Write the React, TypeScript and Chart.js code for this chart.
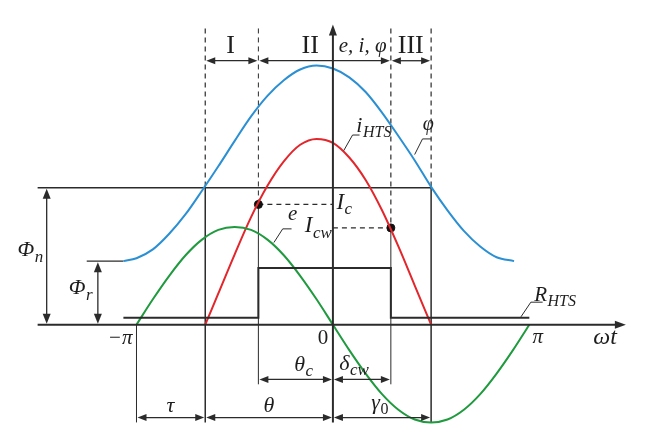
import React, { useEffect, useRef } from "react";
import { Chart, registerables } from "chart.js";

Chart.register(...registerables);

// ---- data (x in degrees, π = 180; y in relative units) ----
const E_X = [-180, -165, -150, -135, -120, -105, -90, -75, -60, -45, -30, -15, 0, 15, 30, 45, 60, 75, 90, 105, 120, 135, 150, 165, 180];
const E_VALUES = [0, 0.26, 0.5, 0.71, 0.87, 0.97, 1.0, 0.97, 0.87, 0.71, 0.5, 0.26, 0, -0.26, -0.5, -0.71, -0.87, -0.97, -1.0, -0.97, -0.87, -0.71, -0.5, -0.26, 0];

const PHI_X = [-192, -180, -165, -150, -135, -120, -105, -90, -75, -60, -45, -30, -15, 0, 15, 30, 45, 60, 75, 90, 105, 120, 135, 150, 166];
const PHI_VALUES = [0.65, 0.68, 0.77, 0.93, 1.13, 1.37, 1.62, 1.88, 2.13, 2.34, 2.5, 2.61, 2.65, 2.62, 2.53, 2.38, 2.17, 1.93, 1.68, 1.41, 1.17, 0.96, 0.8, 0.69, 0.65];

const I_X = [-117, -105, -90, -75, -60, -45, -30, -15, 0, 15, 30, 45, 60, 75, 90];
const I_VALUES = [0, 0.32, 0.72, 1.1, 1.42, 1.67, 1.84, 1.9, 1.86, 1.71, 1.48, 1.17, 0.8, 0.4, 0];

const R_X = [-192, -68.3, -68.3, 53.1, 53.1, 180];
const R_VALUES = [0.07, 0.07, 0.58, 0.58, 0.07, 0.07];

const DOT_X = [-68.3, 53.1];
const DOT_VALUES = [1.23, 0.99];

// key abscissae: -π, start of I, start of II, start of III, end of III, π
const MARK_X = [-180, -117, -68.3, 53.1, 90, 180];
// key levels: Φn, Φr, Ic, Icw
const LEVELS = [1.4, 0.65, 1.23, 0.99];

const BLUE = "#2a8fd3";
const RED = "#e3262b";
const GREEN = "#1f9a3e";
const INK = "#2b2b2b";

const SERIF = "'Liberation Serif', 'DejaVu Serif', serif";

const drawPlugin = {
  id: "diagram",
  beforeDatasetsDraw(chart: any) {
    const ctx = chart.ctx;
    const X = (v: number) => chart.scales.x.getPixelForValue(v);
    const Y = (v: number) => chart.scales.y.getPixelForValue(v);
    const [mPi, mA, mB, mC, mD] = MARK_X;
    const [phiN, phiR, ic, icw] = LEVELS;

    const seg = (x1: number, y1: number, x2: number, y2: number, w = 1, dash: number[] = []) => {
      ctx.save();
      ctx.strokeStyle = INK;
      ctx.lineWidth = w;
      ctx.setLineDash(dash);
      ctx.beginPath();
      ctx.moveTo(X(x1), Y(y1));
      ctx.lineTo(X(x2), Y(y2));
      ctx.stroke();
      ctx.restore();
    };

    const TOP = 3.03;
    const BOT = -1.0;
    const MID = -0.61;
    const dash = [5, 4];

    // dashed top verticals
    seg(mA, TOP, mA, phiN, 1.2, dash);
    seg(mB, TOP, mB, ic, 1, dash);
    seg(mC, TOP, mC, icw, 1.2, dash);
    seg(mD, TOP, mD, phiN, 1.2, dash);
    // solid verticals
    seg(mA, phiN, mA, BOT, 1.5);
    seg(mD, phiN, mD, BOT, 1.5);
    seg(mB, ic, mB, MID, 1);
    seg(mC, icw, mC, MID, 1);
    seg(mPi, 0, mPi, BOT, 1);
    // dashed horizontals
    seg(mB, ic, 0, ic, 1.2, dash);
    seg(0, icw, mC, icw, 1.2, dash);
    // Φn / Φr levels
    seg(-270.6, phiN, mD, phiN, 1.6);
    seg(-225.6, phiR, -192, phiR, 1.2);
  },
  afterDatasetsDraw(chart: any) {
    const ctx = chart.ctx;
    const X = (v: number) => chart.scales.x.getPixelForValue(v);
    const Y = (v: number) => chart.scales.y.getPixelForValue(v);
    const [mPi, mA, mB, mC, mD] = MARK_X;
    const [phiN, phiR] = LEVELS;

    const seg = (x1: number, y1: number, x2: number, y2: number, w = 1) => {
      ctx.save();
      ctx.strokeStyle = INK;
      ctx.lineWidth = w;
      ctx.beginPath();
      ctx.moveTo(X(x1), Y(y1));
      ctx.lineTo(X(x2), Y(y2));
      ctx.stroke();
      ctx.restore();
    };
    // tip at (px,py), pointing in direction (dx,dy)
    const head = (px: number, py: number, dx: number, dy: number, len = 9, half = 3.5) => {
      ctx.save();
      ctx.fillStyle = INK;
      ctx.beginPath();
      ctx.moveTo(px, py);
      ctx.lineTo(px - dx * len - dy * half, py - dy * len + dx * half);
      ctx.lineTo(px - dx * len + dy * half, py - dy * len - dx * half);
      ctx.closePath();
      ctx.fill();
      ctx.restore();
    };
    const hArrow = (x1: number, x2: number, y: number) => {
      const a = X(x1) + 1, b = X(x2) - 1, yy = Y(y);
      ctx.save();
      ctx.strokeStyle = INK;
      ctx.lineWidth = 1.3;
      ctx.beginPath();
      ctx.moveTo(a + 4, yy);
      ctx.lineTo(b - 4, yy);
      ctx.stroke();
      ctx.restore();
      head(a, yy, -1, 0);
      head(b, yy, 1, 0);
    };
    const vArrow = (x: number, yTop: number, yBot: number) => {
      const xx = X(x), a = Y(yTop) + 1, b = Y(yBot) - 1;
      ctx.save();
      ctx.strokeStyle = INK;
      ctx.lineWidth = 1.3;
      ctx.beginPath();
      ctx.moveTo(xx, a + 4);
      ctx.lineTo(xx, b - 4);
      ctx.stroke();
      ctx.restore();
      head(xx, a, 0, -1, 10, 4);
      head(xx, b, 0, 1, 10, 4);
    };
    const poly = (pts: number[][]) => {
      ctx.save();
      ctx.strokeStyle = INK;
      ctx.lineWidth = 1;
      ctx.beginPath();
      pts.forEach((p, i) => (i ? ctx.lineTo(X(p[0]), Y(p[1])) : ctx.moveTo(X(p[0]), Y(p[1]))));
      ctx.stroke();
      ctx.restore();
    };
    const text = (t: string, x: number, y: number, size: number, italic: boolean, align: CanvasTextAlign = "center") => {
      ctx.save();
      ctx.fillStyle = "#1e1e1e";
      ctx.font = `${italic ? "italic " : ""}${size}px ${SERIF}`;
      ctx.textAlign = align;
      ctx.textBaseline = "middle";
      ctx.fillText(t, X(x), Y(y));
      ctx.restore();
    };
    const sub = (main: string, s: string, x: number, y: number, size: number, subSize: number, subItalic = true) => {
      ctx.save();
      ctx.fillStyle = "#1e1e1e";
      ctx.font = `italic ${size}px ${SERIF}`;
      ctx.textAlign = "left";
      ctx.textBaseline = "middle";
      const px = X(x), py = Y(y);
      ctx.fillText(main, px, py);
      const w = ctx.measureText(main).width;
      ctx.font = `${subItalic ? "italic " : ""}${subSize}px ${SERIF}`;
      ctx.fillText(s, px + w + 0.5, py + size * 0.32);
      ctx.restore();
    };

    // axes
    seg(-270.6, 0, 262, 0, 2);
    head(X(268.5), Y(0), 1, 0, 11, 4);
    seg(0, -1.0, 0, 2.98, 2);
    head(X(0), Y(3.07), 0, -1, 11, 4);

    // dimension arrows
    hArrow(mA, mB, 2.7);
    hArrow(mB, mC, 2.7);
    hArrow(mC, mD, 2.7);
    hArrow(mB, 0, -0.56);
    hArrow(0, mC, -0.56);
    hArrow(mPi, mA, -0.95);
    hArrow(mA, 0, -0.95);
    hArrow(0, mD, -0.95);
    vArrow(-262.3, phiN, 0);
    vArrow(-215.4, phiR, 0);

    // leaders
    poly([[9.9, 1.78], [18.0, 1.94], [24.4, 1.94]]);
    poly([[74.9, 1.74], [82.1, 1.9], [90.2, 1.9]]);
    poly([[-54.1, 0.84], [-46.0, 0.98], [-37.9, 0.98]]);
    poly([[172.3, 0.08], [181.4, 0.23], [192.2, 0.23]]);

    // labels
    text("I", -93.8, 2.85, 26, false);
    text("II", -20.8, 2.85, 26, false);
    text("III", 71.3, 2.85, 26, false);
    text("e, i, φ", 5.4, 2.85, 21, true, "left");
    sub("i", "HTS", 21.5, 2.03, 22, 16);
    text("φ", 87.5, 2.04, 20, true);
    sub("I", "c", 3.2, 1.25, 23, 17);
    sub("I", "cw", -25.8, 1.01, 23, 17);
    text("e", -37.0, 1.13, 21, true);
    sub("Φ", "n", -289, 0.76, 22, 17);
    sub("Φ", "r", -242, 0.37, 22, 17);
    sub("R", "HTS", 184.5, 0.3, 21, 16);
    text("−π", -195, -0.14, 21, true);
    text("0", -9.0, -0.14, 21, false);
    text("π", 187.7, -0.13, 21, true);
    text("ωt", 249.5, -0.13, 24, true);
    sub("θ", "c", -35.5, -0.41, 22, 17);
    sub("δ", "cw", 5.8, -0.4, 22, 17);
    text("τ", -148.9, -0.83, 22, true);
    text("θ", -58.6, -0.83, 22, true);
    sub("γ", "0", 35.2, -0.8, 22, 16, false);
  },
};

const pts = (xs: number[], ys: number[]) => xs.map((x, i) => ({ x, y: ys[i] }));

export default function App() {
  const ref = useRef<HTMLCanvasElement>(null);
  useEffect(() => {
    if (!ref.current) return;
    const curve = (label: string, xs: number[], ys: number[], color: string) => ({
      type: "line" as const,
      label,
      data: pts(xs, ys),
      borderColor: color,
      borderWidth: 2,
      pointRadius: 0,
      cubicInterpolationMode: "monotone" as const,
      fill: false,
    });
    const chart = new Chart(ref.current, {
      type: "line",
      data: {
        datasets: [
          {
            type: "line",
            label: "R_HTS",
            data: pts(R_X, R_VALUES),
            borderColor: INK,
            borderWidth: 2,
            pointRadius: 0,
            tension: 0,
            fill: false,
          },
          curve("φ", PHI_X, PHI_VALUES, BLUE),
          curve("e", E_X, E_VALUES, GREEN),
          curve("i_HTS", I_X, I_VALUES, RED),
          {
            type: "scatter",
            label: "dots",
            data: pts(DOT_X, DOT_VALUES),
            backgroundColor: "#111",
            borderColor: "#111",
            pointRadius: 4,
            showLine: false,
          } as any,
        ],
      },
      options: {
        responsive: false,
        animation: false,
        layout: { padding: 0 },
        plugins: { legend: { display: false }, tooltip: { enabled: false } },
        scales: {
          x: { type: "linear", min: -300.5, max: 286.0, display: false },
          y: { type: "linear", min: -1.19, max: 3.27, display: false },
        },
      },
      plugins: [drawPlugin],
    });
    return () => chart.destroy();
  }, []);
  return (
    <div style={{ position: "absolute", left: 0, top: 0, width: 650, height: 446, background: "#fff" }}>
      <canvas ref={ref} width={650} height={446} />
    </div>
  );
}
